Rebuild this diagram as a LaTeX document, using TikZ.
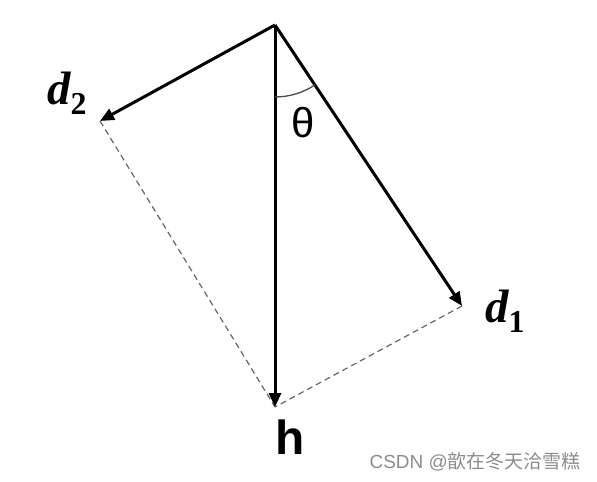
\documentclass[tikz,border=0pt]{standalone}
\usepackage{fontspec}
\setmainfont{Liberation Serif}
\newfontfamily\lsans{Liberation Sans}
\newfontfamily\cjk{Noto Sans CJK SC}
\usetikzlibrary{arrows.meta}
\tikzset{
  vec/.style={line width=3bp, -{Triangle[length=14bp, width=12bp]}},
  proj/.style={line width=1.2bp, dash pattern=on 6bp off 4bp, black!60},
  veclabel/.style={inner sep=0pt, font=\fontsize{47}{47}\selectfont\bfseries\itshape},
}
\begin{document}
\begin{tikzpicture}[x=1bp, y=1bp]
   \useasboundingbox (0,0) rectangle (597,-482);
   \coordinate (O) at (275,-25);
   \coordinate (D2) at (100,-121);
   \coordinate (H) at (275,-407);
   \coordinate (D1) at (462,-306);
   % projections
   \draw[proj] (D2) -- (H);
   \draw[proj] (D1) -- (H);
   % vectors
   \draw[vec] (O) -- (D2);
   \draw[vec] (O) -- (H);
   \draw[vec] (O) -- (D1);
   % angle
   \draw[line width=1.3bp, black!70] ([shift={(-90:72)}]O) arc[start angle=-90, end angle=-56.3, radius=72];
   \node (theta) at (303,-123) {\lsans\fontsize{42}{42}\selectfont θ};
   \node[veclabel] (d2) at (67,-93) {d\raisebox{-0.22em}{\fontsize{32}{32}\selectfont\upshape 2}};
   \node[veclabel] (d1) at (505,-311) {d\raisebox{-0.22em}{\fontsize{32}{32}\selectfont\upshape 1}};
   \node (h) at (290,-437) {\lsans\bfseries\fontsize{48}{48}\selectfont h};
   \node[text=black!45] (mark) at (475,-462) {\lsans\fontsize{19}{19}\selectfont CSDN @\cjk 歆在冬天洽雪糕};
\end{tikzpicture}
\end{document}
